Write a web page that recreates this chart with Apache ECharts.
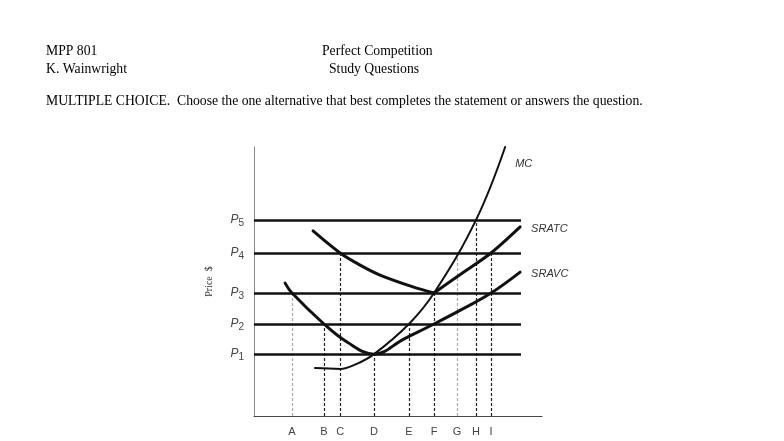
<!DOCTYPE html>
<html><head><meta charset="utf-8">
<script src="https://cdn.jsdelivr.net/npm/echarts@6/dist/echarts.min.js"></script>
<style>html,body{margin:0;padding:0;background:#fff}#c{width:784px;height:441px}</style>
</head><body><div id="c"></div>
<script>
// Quantity markers on the horizontal axis
const quantityLetters = ['A','B','C','D','E','F','G','H','I'];
const quantityX = [13.2,24.3,29.9,41.7,53.8,62.5,70.5,77.1,82.3];
const dropToPrice = [2,1,3,0,1,2,3,4,3]; // index into priceLevels
const dropLight = [true,false,false,false,false,false,true,false,false];
// Price levels
const priceNames = ['1','2','3','4','5'];
const priceLevels = [23.0,34.2,45.7,60.6,72.9];
const priceLineEnd = 92.7;
// Cost curves
const mcX = [21.2,29.9,35.5,41.7,53.8,62.5,77.1,87.2];
const mcY = [17.8,17.5,19.3,23.0,34.2,45.7,72.9,100];
const sratcLeftX = [20.5,29.9,37,43.75,55.2,62.5];
const sratcLeftY = [68.8,60.6,56,52.4,48,45.7];
const sratcRightX = [62.5,72,82.3,92.4];
const sratcRightY = [45.7,52.9,60.6,70.3];
const sravcX = [10.8,13.2,24.3,32.3,41.7,52,62.5,72.5,82.3,92.4];
const sravcY = [49.4,45.7,34.2,27.5,23.0,28.6,34.2,39.8,45.7,53.5];

const zip = (xs, ys) => xs.map((x, i) => [x, ys[i]]);
const chart = echarts.init(document.getElementById('c'));
const serif = 'Liberation Serif';
const sans = 'Liberation Sans';
const headFont = '13.7px "Liberation Serif"';

const dropLines = quantityX.map((x, i) => [
  {coord: [x, 0], lineStyle: {color: dropLight[i] ? '#aaa' : '#222', type: [3, 2], width: 1.2}},
  {coord: [x, priceLevels[dropToPrice[i]]]}
]);
const priceLines = priceLevels.map(p => [{coord: [0, p]}, {coord: [priceLineEnd, p]}]);

function curve(name, xs, ys, width, off, sm, label) {
  return {
    type: 'line', name, data: zip(xs, ys), smooth: sm, symbol: 'none',
    lineStyle: {color: '#111', width, cap: 'round', join: 'round'}, silent: true, clip: false, z: 5,
    endLabel: {show: label, formatter: name, fontFamily: sans, fontStyle: 'italic',
      fontSize: 11, color: '#333', offset: off}
  };
}

chart.setOption({
  animation: false,
  grid: {left: 254, right: 242, top: 147, bottom: 25},
  xAxis: {
    type: 'value', min: 0, max: 100,
    axisLine: {show: true, lineStyle: {color: '#444', width: 1}},
    axisTick: {show: false}, splitLine: {show: false},
    axisLabel: {customValues: quantityX, margin: 10, fontFamily: sans, fontSize: 11, color: '#444',
      formatter: v => quantityLetters[quantityX.indexOf(v)]}
  },
  yAxis: {
    type: 'value', min: 0, max: 100,
    name: 'Price  $', nameLocation: 'middle', nameRotate: 90, nameGap: 40,
    nameTextStyle: {fontFamily: serif, fontSize: 10, color: '#333'},
    axisLine: {show: true, lineStyle: {color: '#888', width: 1}},
    axisTick: {show: false}, splitLine: {show: false},
    axisLabel: {customValues: priceLevels, margin: 10, color: '#444',
      formatter: v => '{p|P}{s|' + priceNames[priceLevels.indexOf(v)] + '}',
      rich: {p: {fontFamily: sans, fontStyle: 'italic', fontSize: 12, color: '#444'},
             s: {fontFamily: sans, fontSize: 10, color: '#444', padding: [7, 0, 0, 0]}}}
  },
  graphic: [
    {type: 'text', left: 46, top: 44, style: {text: 'MPP 801', font: headFont, fill: '#000'}},
    {type: 'text', left: 46, top: 62, style: {text: 'K. Wainwright', font: headFont, fill: '#000'}},
    {type: 'text', left: 322, top: 44, style: {text: 'Perfect Competition', font: headFont, fill: '#000'}},
    {type: 'text', left: 329, top: 62, style: {text: 'Study Questions', font: headFont, fill: '#000'}},
    {type: 'text', left: 46, top: 94, style: {text: 'MULTIPLE CHOICE.  Choose the one alternative that best completes the statement or answers the question.', font: headFont, fill: '#000'}}
  ],
  series: [
    {type: 'line', data: [], silent: true, z: 2,
     markLine: {silent: true, symbol: ['none', 'none'], label: {show: false}, animation: false,
       lineStyle: {color: '#222', type: [3, 2], width: 1.2}, data: dropLines}},
    {type: 'line', data: [], silent: true, z: 3,
     markLine: {silent: true, symbol: ['none', 'none'], label: {show: false}, animation: false,
       lineStyle: {color: '#111', type: 'solid', width: 2.5}, data: priceLines}},
    curve('MC', mcX, mcY, 2, [2, 17], 0.4, true),
    curve('SRATC-left', sratcLeftX, sratcLeftY, 3, [3, 2], 0.3, false),
    Object.assign(curve('SRATC', sratcRightX, sratcRightY, 3, [3, 2], 0.3, true)),
    curve('SRAVC', sravcX, sravcY, 3, [3, 2], 0.4, true)
  ]
});
</script></body></html>
